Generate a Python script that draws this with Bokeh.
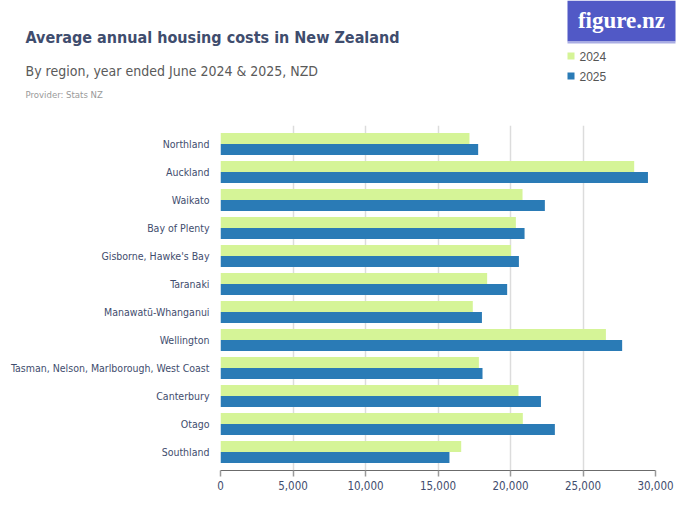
from bokeh.plotting import figure
from bokeh.models import (ColumnDataSource, FactorRange, Range1d,
                          SingleIntervalTicker, NumeralTickFormatter)
from bokeh.core.properties import value
from bokeh.layouts import column
from bokeh.transform import dodge
from bokeh.embed import file_html
from bokeh.resources import INLINE

# Average annual housing costs (NZD), year ended June
regions = [
    "Northland", "Auckland", "Waikato", "Bay of Plenty", "Gisborne, Hawke's Bay",
    "Taranaki", "Manawatū-Whanganui", "Wellington",
    "Tasman, Nelson, Marlborough, West Coast", "Canterbury", "Otago", "Southland",
]
costs_2024 = [17170, 28530, 20830, 20370, 20030, 18390, 17400, 26580, 17820, 20550, 20850, 16600]
costs_2025 = [17770, 29480, 22370, 20970, 20580, 19770, 18030, 27700, 18070, 22100, 23060, 15790]
years = ["2024", "2025"]
x_ticks_step = 5000

FONT = "'DejaVu Sans Condensed', 'Liberation Sans', sans-serif"
NAVY = "#3f4d6e"
COL_2024 = "#d5f497"
COL_2025 = "#2a7bb6"

# ---- header: title block, brand box and legend keys ----
head = figure(width=700, height=125, x_range=Range1d(0, 700), y_range=Range1d(125, 0),
              x_axis_type=None, y_axis_type=None, output_backend="svg",
              toolbar_location=None, min_border=0)
head.frame_align = False
head.outline_line_color = None
head.grid.visible = False
head.background_fill_color = "white"
head.border_fill_color = "white"

def head_text(text, x, y, size, color, style="normal", font=FONT, align="left"):
    head.text(x=[x], y=[y], text=[text], text_font=value(font), text_font_size=size,
              text_color=color, text_font_style=style, text_baseline="middle",
              text_align=align)

head_text("Average annual housing costs in New Zealand", 25, 37, "16px", NAVY, "bold")
head_text("By region, year ended June 2024 & 2025, NZD", 25, 70, "14px", "#5a5a5a")
head_text("Provider: Stats NZ", 25, 94, "9.5px", "#9a9a9a")

head.quad(left=[567], right=[675], top=[0], bottom=[41], color="#5159c6", line_color=None)
head.quad(left=[567], right=[675], top=[41], bottom=[43], color="#a9ade3", line_color=None)
head_text("figure.nz", 621, 20, "23px", "white", "bold",
          font="'Liberation Serif', 'DejaVu Serif', serif", align="center")

key_src = ColumnDataSource(dict(year=years, color=[COL_2024, COL_2025], y=[55.5, 75.5]))
head.rect(x=570.5, y="y", width=7, height=7, color="color", line_color=None, source=key_src)
head.text(x=579, y="y", text="year", source=key_src,
          text_font=value("'Liberation Sans', 'DejaVu Sans', sans-serif"),
          text_font_size="12px", text_color="#555555", text_baseline="middle")

# ---- main bar chart ----
source = ColumnDataSource(dict(region=regions, y2024=costs_2024, y2025=costs_2025))

p = figure(
    width=700, height=400,
    y_range=FactorRange(factors=regions[::-1], range_padding=0.16,
                        range_padding_units="absolute"),
    x_range=Range1d(0, 30000),
    output_backend="svg", toolbar_location=None, title=None,
    min_border_left=220, min_border_right=45, min_border_top=0, min_border_bottom=55,
)
p.frame_align = False
p.outline_line_color = None
p.background_fill_color = "white"
p.border_fill_color = "white"

p.hbar(y=dodge("region", 0.196, range=p.y_range), right="y2024", height=0.393,
       left=0, source=source, color=COL_2024, line_color=None)
p.hbar(y=dodge("region", -0.196, range=p.y_range), right="y2025", height=0.393,
       left=0, source=source, color=COL_2025, line_color=None)

p.ygrid.grid_line_color = None
p.xgrid.grid_line_color = "#dcdcdc"
p.xgrid.grid_line_width = 1.5
p.xaxis.ticker = SingleIntervalTicker(interval=x_ticks_step)
p.xaxis.formatter = NumeralTickFormatter(format="0,0")
p.xaxis.axis_line_color = "#6b6b6b"
p.xaxis.axis_line_width = 1.2
p.xaxis.major_tick_line_color = "#9a9a9a"
p.xaxis.major_tick_line_width = 1.5
p.xaxis.major_tick_out = 6
p.xaxis.major_tick_in = 0
p.xaxis.minor_tick_line_color = None
p.xaxis.major_label_text_font = FONT
p.xaxis.major_label_text_font_size = "11.5px"
p.xaxis.major_label_text_color = NAVY
p.xaxis.major_label_standoff = 4

p.yaxis.axis_line_color = None
p.yaxis.major_tick_line_color = None
p.yaxis.minor_tick_line_color = None
p.yaxis.major_label_standoff = 5
p.yaxis.major_label_text_font = FONT
p.yaxis.major_label_text_font_size = "10.5px"
p.yaxis.major_label_text_color = NAVY

layout = column(head, p, spacing=0)
open("out.html", "w").write(file_html(layout, INLINE))
